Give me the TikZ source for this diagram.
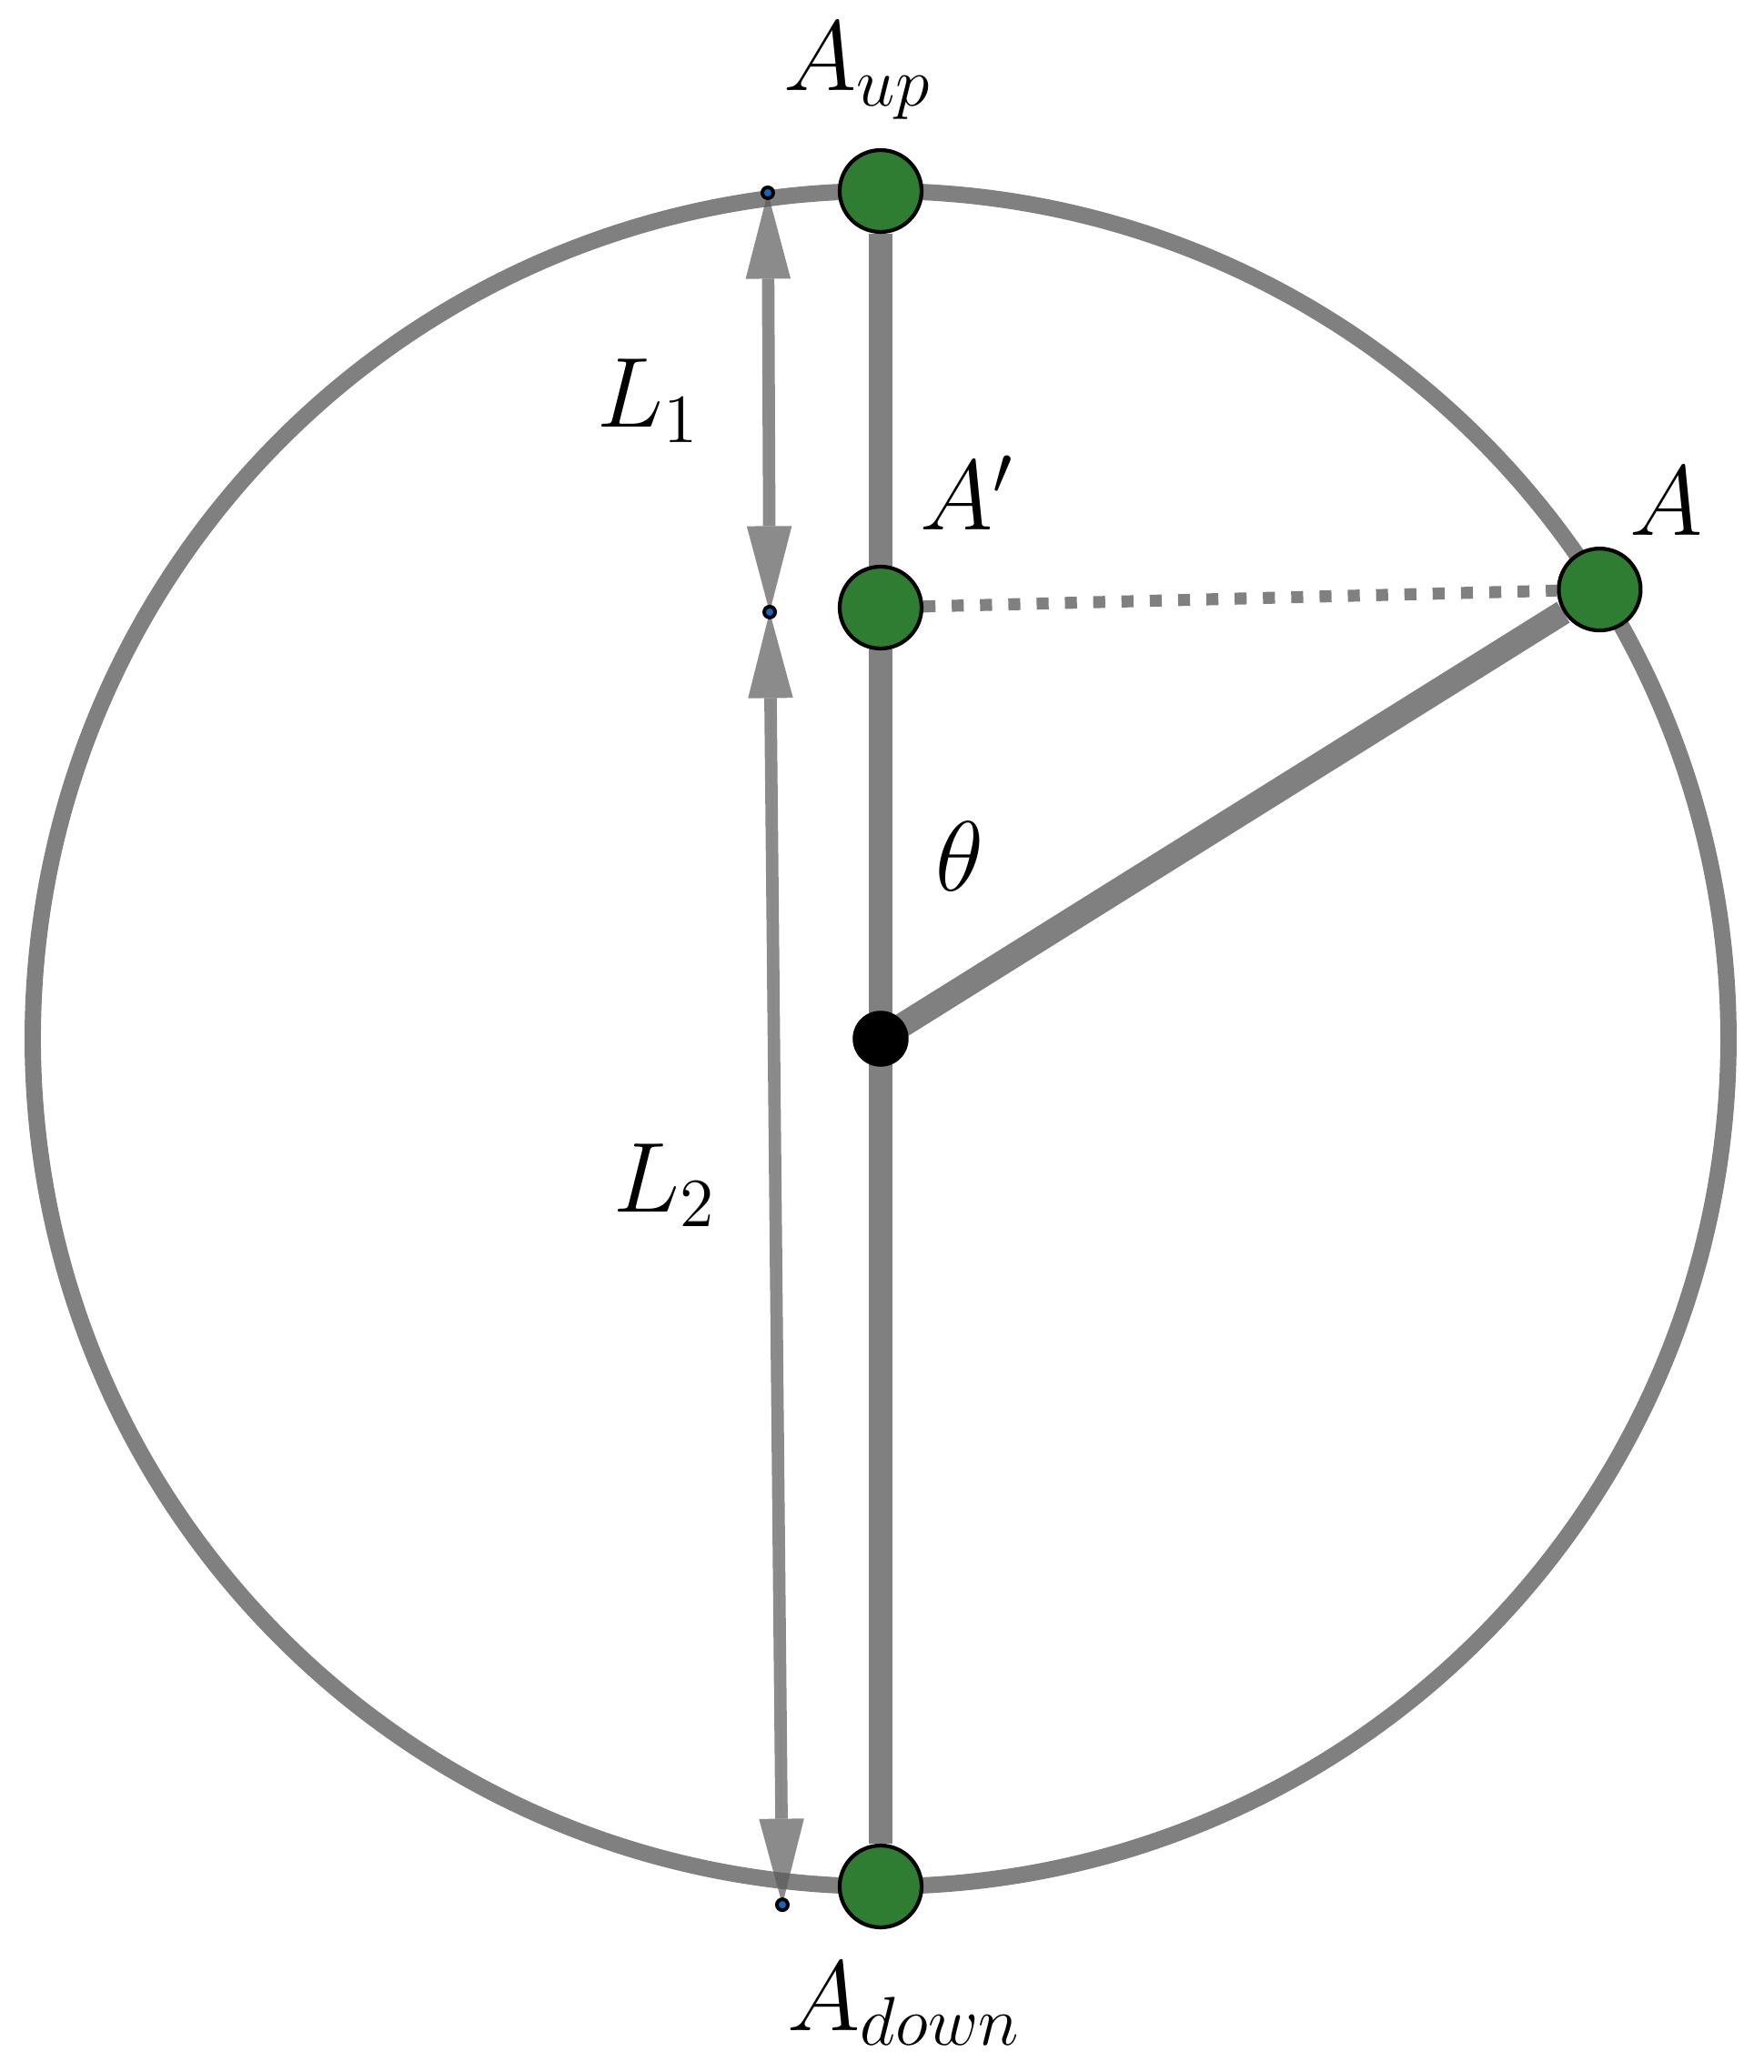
\documentclass[tikz,border=0pt]{standalone}
\usepackage{amsmath}
\usepackage{tikz}
\usetikzlibrary{positioning,arrows.meta,backgrounds}

\definecolor{rodgray}{RGB}{128,128,128}
\definecolor{dimgray}{RGB}{90,90,90}
\definecolor{ptgreen}{RGB}{46,125,50}
\definecolor{ptblue}{RGB}{21,101,192}

\begin{document}
\begin{tikzpicture}[
    font=\huge,
    pt/.style={circle, fill=ptgreen, draw=black, line width=0.8pt, minimum size=6mm, inner sep=0pt},
    hub/.style={circle, fill=black, minimum size=4.1mm, inner sep=0pt},
    tick/.style={circle, fill=ptblue, draw=black, line width=0.75pt, minimum size=0.8mm, inner sep=0pt},
    rod/.style={draw=rodgray, line width=5.1pt},
    dim/.style={{Triangle[length=6.3mm,width=3.3mm,line width=0pt]}-{Triangle[length=6.3mm,width=3.3mm,line width=0pt]},
        draw=dimgray, fill=dimgray, line width=2.6pt, opacity=0.7}
]
\useasboundingbox (-6.453,-7.573) rectangle (6.467,7.613);

%Nodes
\node[hub]  (O)     at (0,0)            {};
\node[pt]   (Aup)   at (0,6.213)        {};
\node[pt]   (Ap)    at (0,3.16)         {};
\node[pt]   (A)     at (32:6.213)       {};
\node[pt]   (Adown) at (0,-6.213)       {};
\node[tick] (T1)    at (-0.827,6.2)     {};
\node[tick] (T2)    at (-0.813,3.127)   {};
\node[tick] (T3)    at (-0.72,-6.347)   {};

%Labels
\node[anchor=base] (lAup)   at (-0.167,6.947)  {$A_{up}$};
\node[anchor=base] (lAdown) at (0.173,-7.267)  {$A_{down}$};
\node[anchor=base] (lAp)    at (0.633,3.727)   {$A'$};
\node[anchor=base] (lA)     at (5.76,3.693)    {$A$};
\node[anchor=base] (ltheta) at (0.58,1.08)     {$\theta$};
\node[anchor=base] (lL1)    at (-1.7,4.48)     {$L_1$};
\node[anchor=base] (lL2)    at (-1.58,-1.267)  {$L_2$};

%Lines
\begin{scope}[on background layer]
\draw[draw=rodgray, line width=3.4pt] (O.center) circle (6.213);
\draw[rod] (Aup) -- (Adown);
\draw[rod] (O.center) -- (A);
\draw[draw=rodgray, line width=2.5pt, dash pattern=on 2.5pt off 3.4pt] (Ap) -- (A);
\draw[dim] (T1.center) -- (T2.center);
\draw[dim] (T2.center) -- (T3.center);
\end{scope}
\end{tikzpicture}
\end{document}
